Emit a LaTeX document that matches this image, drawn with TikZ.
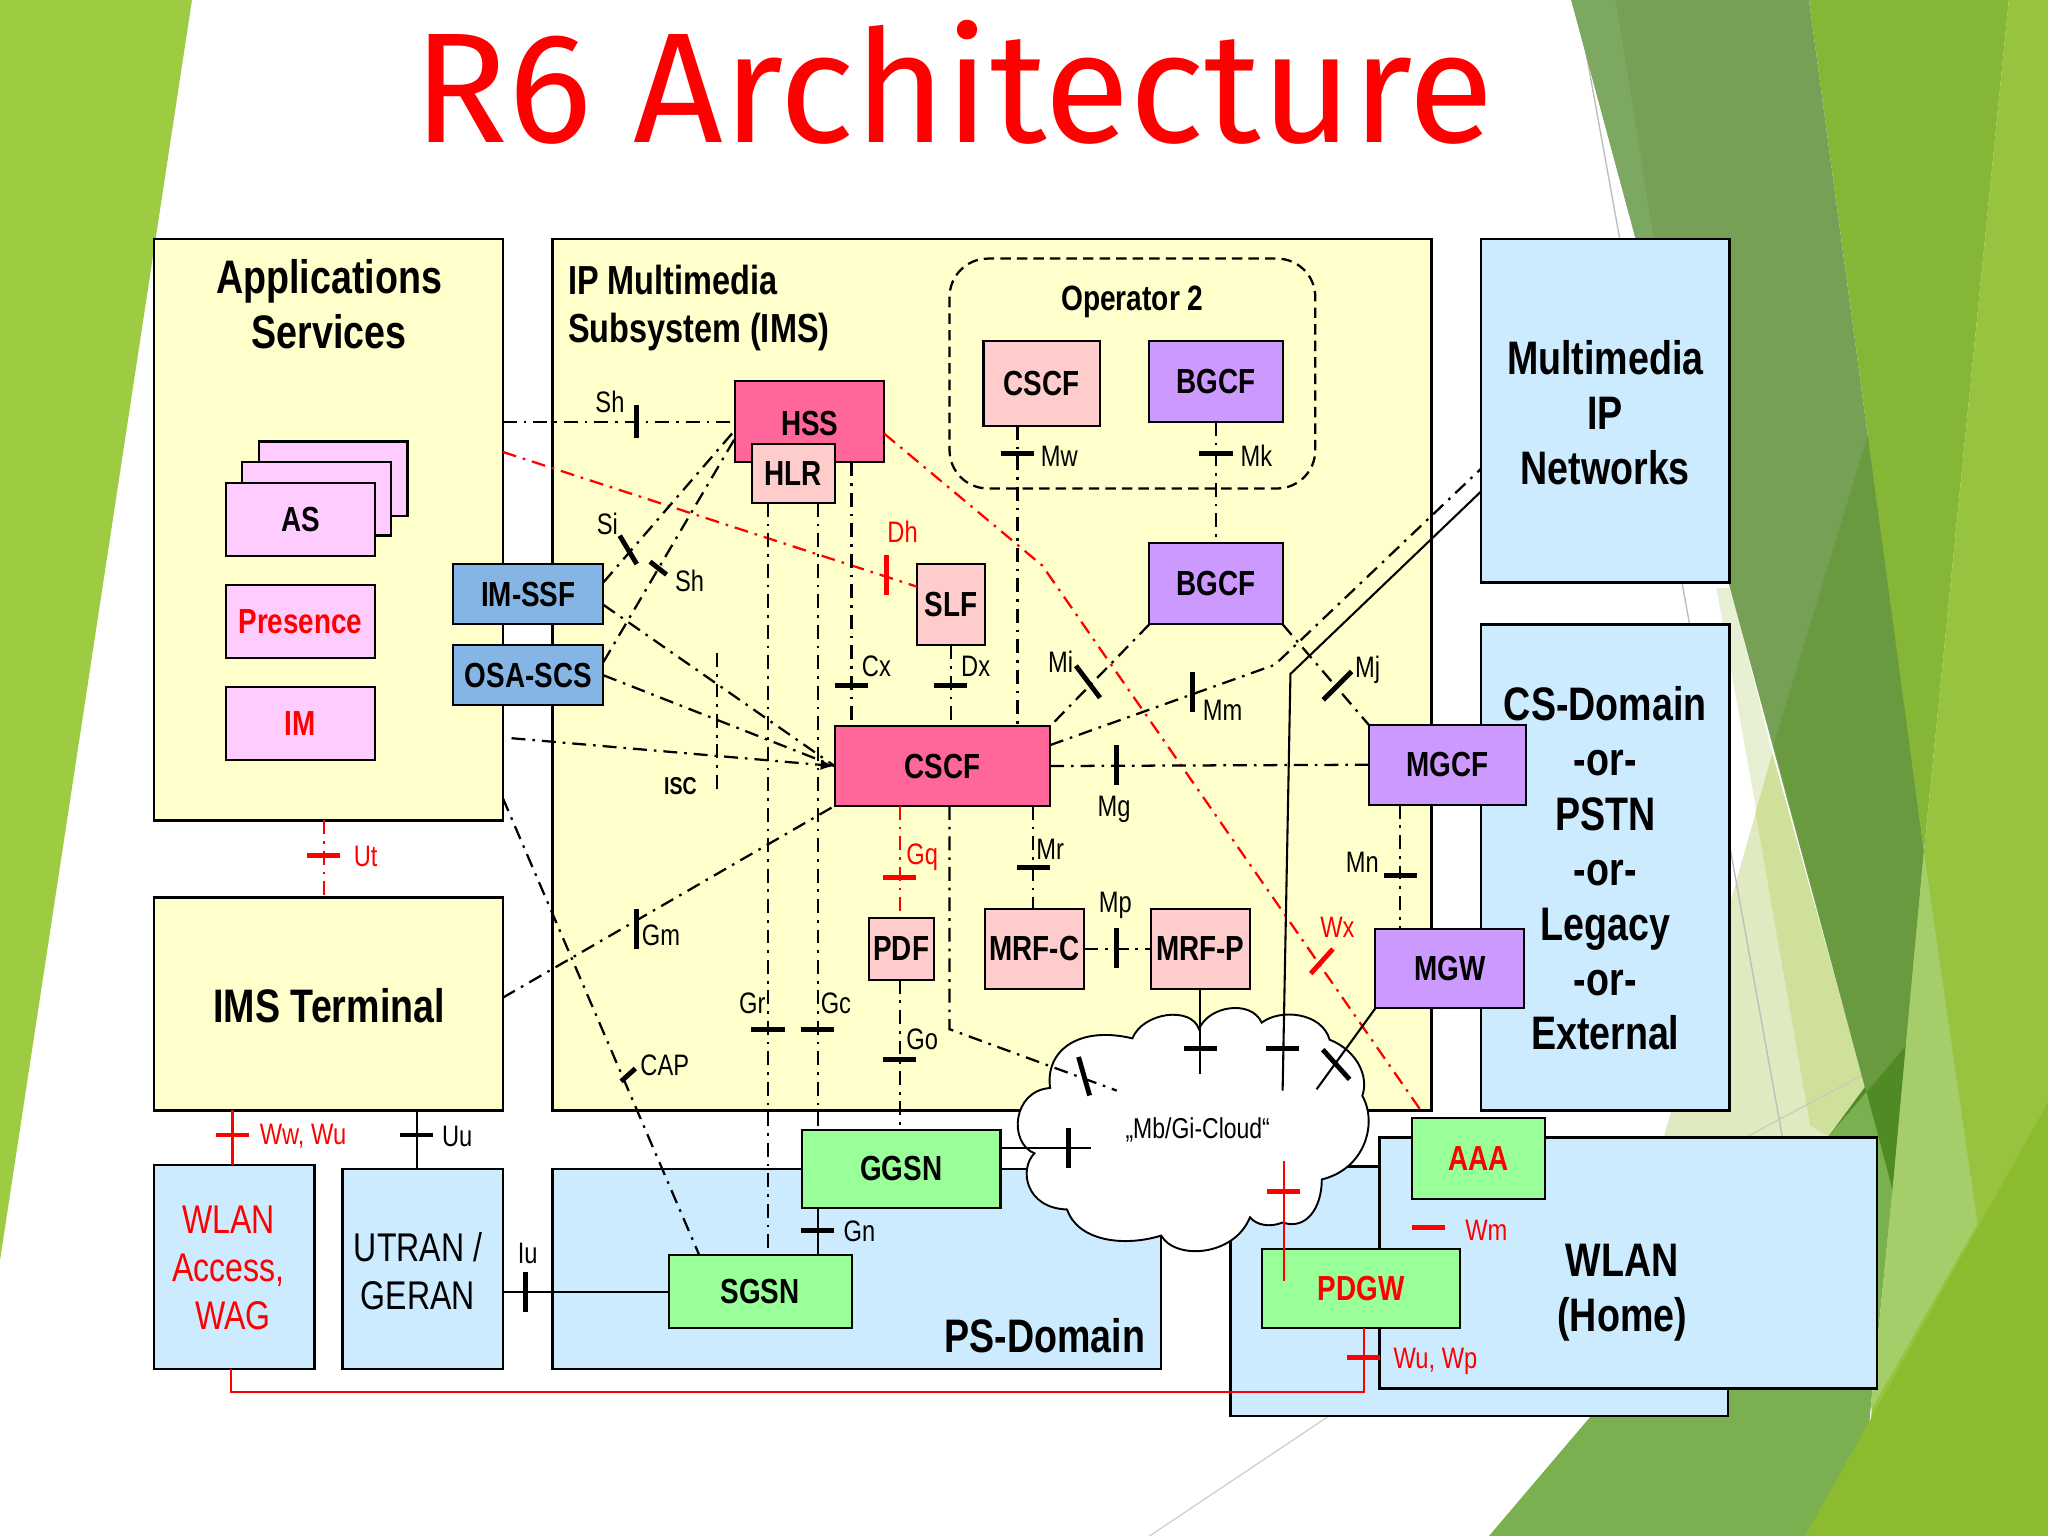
\documentclass[tikz,border=0pt]{standalone}
\usepackage{fontspec}
\usepackage{tikz}
\setmainfont[FakeStretch=0.8]{Liberation Sans}
\newfontfamily\titlefont{Fira Sans}
\usetikzlibrary{arrows.meta}

\tikzset{
  size/.style 2 args={minimum width=#1*0.75pt,minimum height=#2*0.75pt,inner sep=0pt,outer sep=0pt},
  panel/.style={draw=black,line width=1.5pt,rectangle},
  yellowbox/.style={panel,fill={rgb, 255:red, 255; green, 255; blue, 204 }},
  bluebox/.style={panel,fill={rgb, 255:red, 204; green, 235; blue, 255 }},
  unit/.style={draw=black,line width=1.2pt,rectangle,font=\bfseries\fontsize{20}{24}\selectfont},
  pinkbox/.style={unit,fill={rgb, 255:red, 255; green, 204; blue, 204 }},
  lilacbox/.style={unit,fill={rgb, 255:red, 255; green, 204; blue, 255 }},
  hotbox/.style={unit,fill={rgb, 255:red, 255; green, 102; blue, 153 }},
  purplebox/.style={unit,fill={rgb, 255:red, 204; green, 153; blue, 255 }},
  greenbox/.style={unit,fill={rgb, 255:red, 153; green, 255; blue, 153 }},
  steelbox/.style={unit,fill={rgb, 255:red, 133; green, 181; blue, 229 }},
  signal/.style={line width=1.3pt,dash pattern={on 8pt off 4pt on 1.5pt off 4pt}},
  redsignal/.style={signal,color={rgb, 255:red, 255; green, 0; blue, 0 }},
  wire/.style={line width=1.2pt},
  redwire/.style={wire,color={rgb, 255:red, 255; green, 0; blue, 0 }},
  bar/.style={rectangle,fill=black,inner sep=0pt,minimum width=19pt,minimum height=2.8pt},
  longbar/.style={bar,minimum width=23pt},
  redbar/.style={bar,fill=red},
  longredbar/.style={longbar,fill=red},
  lbl/.style={inner sep=0.75pt,font=\fontsize{17}{19}\selectfont},
  redlbl/.style={lbl,text=red},
  head/.style={inner sep=0.75pt,align=center,font=\bfseries\fontsize{27}{31.5}\selectfont},
  plain/.style={inner sep=0.75pt,align=center,font=\fontsize{23}{27.5}\selectfont},
}

\begin{document}
\begin{tikzpicture}[x=0.75pt,y=0.75pt,yscale=-1,xscale=1]
\path [use as bounding box] (0,0) rectangle (1568,1176);

%Background shapes
\fill [fill={rgb, 255:red, 157; green, 203; blue, 66 }] (0,0) -- (147,0) -- (0,965) -- cycle;
\fill [fill={rgb, 255:red, 232; green, 240; blue, 212 }] (1314,450) -- (1325,450) -- (1357,577) -- (1345,622) -- cycle;
\fill [fill={rgb, 255:red, 224; green, 234; blue, 192 }] (1357,577) -- (1428,832) -- (1400,870) -- (1274,870) -- cycle;
\fill [fill={rgb, 255:red, 206; green, 224; blue, 154 }] (1344,622) -- (1357,577) -- (1428,832) -- (1400,870) -- (1386,862) -- cycle;
\draw [color={rgb, 255:red, 190; green, 190; blue, 190 },line width=0.8pt] (1207,0) -- (1420,1176);
\draw [color={rgb, 255:red, 200; green, 200; blue, 190 },line width=0.6pt] (880,1176) -- (1338,870) -- (1488,790);
\fill [fill={rgb, 255:red, 118; green, 160; blue, 86 }] (1203,0) -- (1385,0) -- (1473,652) -- (1449,911) -- cycle;
\fill [fill={rgb, 255:red, 125; green, 168; blue, 98 }] (1203,0) -- (1237,0) -- (1266,182) -- (1252,182) -- cycle;
\fill [fill={rgb, 255:red, 106; green, 154; blue, 64 }] (1431,330) -- (1473,652) -- (1449,911) -- (1358,570) -- cycle;
\fill [fill={rgb, 255:red, 133; green, 182; blue, 54 }] (1385,0) -- (1538,0) -- (1473,652) -- cycle;
\fill [fill={rgb, 255:red, 151; green, 195; blue, 62 }] (1538,0) -- (1568,0) -- (1568,1176) -- (1424,1176) -- (1473,652) -- cycle;
\fill [fill={rgb, 255:red, 122; green, 176; blue, 79 }] (1140,1176) -- (1400,870) -- (1459,801) -- (1449,911) -- (1432,1080) -- (1424,1176) -- cycle;
\fill [fill={rgb, 255:red, 79; green, 138; blue, 37 }] (1400,870) -- (1459,801) -- (1449,911) -- (1428,832) -- cycle;
\fill [fill={rgb, 255:red, 165; green, 206; blue, 106 }] (1473,652) -- (1514,937) -- (1475,1005) -- (1432,1080) -- (1449,911) -- cycle;
\fill [fill={rgb, 255:red, 141; green, 187; blue, 47 }] (1382,1176) -- (1568,844) -- (1568,1176) -- cycle;

% Text Node
\node [inner sep=0.75pt,text={rgb, 255:red, 255; green, 0; blue, 0 },font=\titlefont\fontsize{90}{100}\selectfont] (title) at (730,63) {R6 Architecture};

%Big panels
\node [yellowbox,size={267}{445}] (apps) at (251.5,405.5) {};
\node [yellowbox,size={673}{667}] (ims) at (759.5,516.5) {};
\node [yellowbox,size={267}{163}] (term) at (251.5,768.5) {};
\node [bluebox,size={190}{263}] (mmnet) at (1229,314.5) {};
\node [bluebox,size={190}{372}] (csdom) at (1229,664) {};
\node [bluebox,size={123}{156}] (wlanacc) at (179.5,970) {};
\node [bluebox,size={123}{153}] (utran) at (323.5,971.5) {};
\node [bluebox,size={466}{153}] (psdom) at (656,971.5) {};
\node [bluebox,size={381}{191}] (plmn) at (1132.5,988.5) {};
\node [bluebox,size={381}{192}] (wlanhome) at (1246.5,967) {};

%Operator 2
\draw [line width=1.3pt,dash pattern={on 6pt off 3.5pt},rounded corners=22pt] (727,198) rectangle (1007,374);

%Units
\node [lilacbox,size={114}{57}] (as3) at (255,366.5) {};
\node [lilacbox,size={114}{56}] (as2) at (242.5,382) {};
\node [lilacbox,size={114}{56}] (as1) at (230,398) {AS};
\node [lilacbox,size={114}{56},text=red] (pres) at (230,476) {Presence};
\node [lilacbox,size={114}{56},text=red] (im) at (230,554) {IM};
\node [steelbox,size={115}{46}] (imssf) at (404.5,455) {IM-SSF};
\node [steelbox,size={115}{46}] (osascs) at (404.5,517) {OSA-SCS};
\node [hotbox,size={114}{62}] (hss) at (620,323) {};
\node [pinkbox,size={63}{45}] (hlr) at (607.5,362.5) {HLR};
\node [pinkbox,size={52}{62}] (slf) at (728,463) {SLF};
\node [hotbox,size={165}{61}] (cscf) at (721.5,586.5) {CSCF};
\node [pinkbox,size={89}{65}] (cscfb) at (797.5,293.5) {CSCF};
\node [purplebox,size={102}{62}] (bgcfb) at (931,292) {BGCF};
\node [purplebox,size={102}{62}] (bgcf) at (931,447) {BGCF};
\node [purplebox,size={120}{61}] (mgcf) at (1108,585.5) {MGCF};
\node [purplebox,size={114}{61}] (mgw) at (1110,741.5) {MGW};
\node [pinkbox,size={50}{47}] (pdf) at (690,726.5) {PDF};
\node [pinkbox,size={76}{61}] (mrfc) at (792,726.5) {MRF-C};
\node [pinkbox,size={76}{61}] (mrfp) at (919,726.5) {MRF-P};
\node [greenbox,size={152}{60}] (ggsn) at (690,895) {GGSN};
\node [greenbox,size={140}{56}] (sgsn) at (582,989) {SGSN};
\node [greenbox,size={102}{62},text=red] (aaa) at (1132,887) {AAA};
\node [greenbox,size={152}{61},text=red] (pdgw) at (1042,986.5) {PDGW};

% Text Node
\node [inner sep=0.75pt,font=\bfseries\fontsize{20}{24}\selectfont] (hsstxt) at (620,324) {HSS};
\node [head] (appstxt) at (252,233) {Applications\\ Services};
\node [inner sep=0.75pt,align=left,font=\bfseries\fontsize{23.3}{27.6}\selectfont] (imstxt) at (535,236) {IP Multimedia\\ Subsystem (IMS)};
\node [inner sep=0.75pt,font=\bfseries\fontsize{20.2}{24}\selectfont] (optxt) at (867,231) {Operator 2};
\node [head] (mmtxt) at (1229,316) {Multimedia\\ IP\\ Networks};
\node [head] (cstxt) at (1229,665) {CS-Domain\\ -or-\\ PSTN\\ -or-\\ Legacy\\ -or-\\ External};
\node [head] (termtxt) at (252,770) {IMS Terminal};
\node [head] (pstxt) at (800,1023) {PS-Domain};
\node [head] (homtxt) at (1242,990) {WLAN\\ (Home)};
\node [plain,text=red] (wlantxt) at (175,971) {WLAN\\ Access,\\ \hspace{5pt}WAG};
\node [plain] (utrantxt) at (320,973) {UTRAN /\\ GERAN};

%Bars
\node [bar,rotate=90] (shbar) at (487,323) {};
\node [bar,rotate=-59] (sibar) at (481,421) {};
\node [bar,rotate=-38,minimum width=12pt] (shbarb) at (504,435) {};
\node [longredbar,rotate=90] (dhbar) at (679,440) {};
\node [bar] (cxbar) at (652,525) {};
\node [bar] (dxbar) at (728,525) {};
\node [bar] (mwbar) at (779,347) {};
\node [bar] (mkbar) at (931,347) {};
\node [longbar,rotate=-53] (mibar) at (833,522) {};
\node [longbar,rotate=90] (mmbar) at (913,530) {};
\node [longbar,rotate=45] (mjbar) at (1024,525) {};
\node [longbar,rotate=90] (mgbar) at (855,586) {};
\node [bar] (mnbar) at (1072,670) {};
\node [bar] (mrbar) at (791,664) {};
\node [longbar,rotate=90] (mpbar) at (855,726) {};
\node [redbar] (gqbar) at (689,672) {};
\node [bar] (gobar) at (689,811) {};
\node [bar] (grbar) at (588,788) {};
\node [bar] (gcbar) at (626,788) {};
\node [longbar,rotate=90] (gmbar) at (487,711) {};
\node [bar,rotate=42,minimum width=11pt] (capbar) at (481,823) {};
\node [bar] (gnbar) at (626,942) {};
\node [longbar,rotate=90] (iubar) at (402,989) {};
\node [bar] (uubar) at (319,869) {};
\node [redbar] (wwbar) at (178,869) {};
\node [redbar] (utbar) at (248,655) {};
\node [redbar,rotate=48] (wxbar) at (1012,736) {};
\node [redbar] (wpbar) at (1044,1039) {};
\node [redbar] (wmbar) at (1094,940) {};

%Free ends
\coordinate (wxa) at (798,433);
\coordinate (wxb) at (1087,849);
\coordinate (isca) at (549,500);
\coordinate (iscb) at (549,604);
\coordinate (mma) at (976,509);
\coordinate (sola) at (988,516);
\coordinate (solb) at (982,835);
\coordinate (clda) at (727,788);
\coordinate (cldb) at (855,835);
\coordinate (mbb) at (919,822);
\coordinate (xb) at (1008,834);
\coordinate (gib) at (835,879);
\coordinate (pda) at (983,889);
\coordinate (pdb) at (983,981);
\coordinate (wla) at (177,1066);
\coordinate (wlb) at (1044,1066);

%Connectors
\draw [signal] (apps.east |- hss.west) -- (hss.west);
\draw [redsignal] (apps.24.4) -- (slf.152);
\draw [redsignal] (hss.-9) -- (wxa) -- (wxb);
\draw [signal] (imssf.9) -- (hss.186);
\draw [signal] (osascs.10.6) -- (hss.192);
\draw [signal] (imssf.-8) -- (cscf.west);
\draw [signal] (osascs.east) -- (cscf.west);
\draw [signal,-{Latex[length=8pt,width=6pt]},shorten <=5pt] (apps.-50.7) -- (cscf.west);
\draw [signal] (isca) -- (iscb);
\draw [signal] (hlr.south -| grbar) -- (sgsn.north -| grbar);
\draw [signal] (hlr.south -| gcbar) -- (ggsn.north -| gcbar);
\draw [signal] (hss.south -| cxbar) -- (cscf.north -| cxbar);
\draw [signal] (slf.south -| dxbar) -- (cscf.north -| dxbar);
\draw [signal] (cscfb.south -| mwbar) -- (cscf.north -| mwbar);
\draw [signal] (bgcfb.south) -- (bgcf.north);
\draw [signal] (bgcf.south west) -- (cscf.north east);
\draw [signal] (cscf.11.3) -- (mma) -- (mmnet.205.6);
\draw [signal] (bgcf.south east) -- (mgcf.north west);
\draw [signal] (cscf.east) -- (mgcf.west);
\draw [signal] (term.2.4) -- (cscf.south west);
\draw [signal] (apps.-57.5) -- (sgsn.149);
\draw [redsignal] (cscf.south -| gqbar) -- (pdf.north -| gqbar);
\draw [signal] (pdf.south -| gobar) -- (ggsn.north -| gobar);
\draw [signal] (cscf.south -| mrbar) -- (mrfc.north -| mrbar);
\draw [signal] (mrfc.east) -- (mrfp.west);
\draw [signal] (mgcf.south -| mnbar) -- (mgw.north -| mnbar);
\draw [wire] (ggsn.south -| gnbar) -- (sgsn.north -| gnbar);
\draw [wire] (utran.east |- iubar) -- (sgsn.west);
\draw [wire] (term.south -| uubar) -- (utran.north -| uubar);
\draw [redwire] (term.south -| wwbar) -- (wlanacc.north -| wwbar);
\draw [redsignal] (apps.south -| utbar) -- (term.north -| utbar);
\draw [redwire] (wlanacc.south -| wla) -- (wla) -- (wlb) -- (pdgw.south -| wlb);

%Cloud
\draw [fill=white,line width=1.1pt] (804,833) .. controls (800,805) and (825,785) .. (867,795) .. controls (875,775) and (912,770) .. (918,788) .. controls (925,770) and (958,765) .. (966,783) .. controls (980,772) and (1012,775) .. (1018,796) .. controls (1040,805) and (1048,825) .. (1043,839) .. controls (1055,860) and (1045,895) .. (1012,903) .. controls (1012,925) and (1000,942) .. (982,936) .. controls (972,940) and (962,938) .. (957,932) .. controls (945,962) and (900,965) .. (889,946) .. controls (860,955) and (825,950) .. (817,926) .. controls (785,925) and (780,895) .. (792,883) .. controls (772,875) and (775,835) .. (804,833) -- cycle;
\node [inner sep=0.75pt,font=\fontsize{16.5}{19}\selectfont] (cloudtxt) at (917,865) {„Mb/Gi-Cloud“};

%Bars and connectors over the cloud
\node [longbar,rotate=-74] (cldbar) at (830,824) {};
\node [bar] (mbbar) at (919,803) {};
\node [bar] (mbbarb) at (982,803) {};
\node [longbar,rotate=-48] (xbar) at (1023,815) {};
\node [longbar,rotate=90] (gibar) at (818,879) {};
\node [redbar] (pdbar) at (983,912) {};
\draw [wire] (mmnet.213.8) -- (sola) -- (solb);
\draw [signal] (cscf.south -| clda) -- (clda) -- (cldb);
\draw [wire] (mrfp.south) -- (mbb);
\draw [wire] (mgw.south west) -- (xb);
\draw [wire] (ggsn.east |- gibar) -- (gib);
\draw [redwire] (pda) -- (pdb);

% Text Node
\node [lbl] (shlbl) at (467,308) {Sh};
\node [lbl] (silbl) at (465,401) {Si};
\node [lbl] (shlblb) at (528,445) {Sh};
\node [redlbl] (dhlbl) at (691,407) {Dh};
\node [lbl] (cxlbl) at (671,510) {Cx};
\node [lbl] (dxlbl) at (747,510) {Dx};
\node [lbl] (mwlbl) at (811,349) {Mw};
\node [lbl] (mklbl) at (962,349) {Mk};
\node [lbl] (milbl) at (812,507) {Mi};
\node [lbl] (mmlbl) at (936,544) {Mm};
\node [lbl] (mjlbl) at (1047,513) {Mj};
\node [lbl] (mglbl) at (853,620) {Mg};
\node [lbl] (mnlbl) at (1043,660) {Mn};
\node [lbl] (mrlbl) at (804,650) {Mr};
\node [lbl] (mplbl) at (854,693) {Mp};
\node [redlbl] (gqlbl) at (706,656) {Gq};
\node [lbl] (golbl) at (706,796) {Go};
\node [lbl] (grlbl) at (576,768) {Gr};
\node [lbl] (gclbl) at (640,768) {Gc};
\node [lbl] (gmlbl) at (506,716) {Gm};
\node [lbl] (caplbl) at (509,816) {CAP};
\node [lbl] (gnlbl) at (658,943) {Gn};
\node [lbl] (iulbl) at (404,960) {Iu};
\node [lbl] (uulbl) at (350,870) {Uu};
\node [redlbl] (wwlbl) at (232,870) {Ww, Wu};
\node [redlbl] (utlbl) at (280,656) {Ut};
\node [redlbl] (wxlbl) at (1024,710) {Wx};
\node [redlbl] (wplbl) at (1099,1042) {Wu, Wp};
\node [redlbl] (wmlbl) at (1138,942) {Wm};
\node [inner sep=0.75pt,font=\bfseries\fontsize{14}{16}\selectfont] (isclbl) at (521,602) {ISC};

\end{tikzpicture}
\end{document}
